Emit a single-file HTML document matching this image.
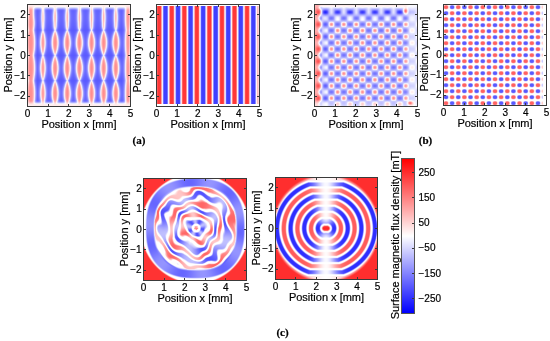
<!DOCTYPE html>
<html><head><meta charset="utf-8"><title>Surface magnetic flux density maps</title><style>
html,body{margin:0;padding:0;background:#fff}
body{position:relative;width:550px;height:341px;overflow:hidden;font-family:"Liberation Sans",Arial,sans-serif;color:#000;-webkit-text-stroke:0.2px #000}
.bx{position:absolute;box-sizing:border-box;border:1px solid #3a3a3a}
canvas{position:absolute;display:block;filter:blur(0.45px)}
.t{position:absolute;white-space:nowrap;line-height:1;transform:translate(-50%,-50%)}
.tk{font-size:10px}
.lb{font-size:11px}
.r{transform:translate(-50%,-50%) rotate(-90deg)}
.tm{position:absolute;background:#3a3a3a}
.cap{position:absolute;font-family:"Liberation Serif","Times New Roman",serif;font-weight:bold;font-size:11px;line-height:1;transform:translate(-50%,-50%)}
</style></head>
<body>
<canvas id="a1" width="102" height="101" style="left:28px;top:5px;width:102px;height:101px;background:linear-gradient(90deg,#f99 0,#f99 5px,transparent 7px),repeating-linear-gradient(90deg,#fbb 0,#fff 1.6px,#8c8cff 4px,#7a7aff 6px,#8c8cff 8px,#fff 10.5px,#fbb 12.15px) 2.8px 0/12.15px 100% #9a9aff"></canvas>
<div class="bx" style="left:27px;top:4px;width:104px;height:103px"></div>
<div class="tm" style="left:47.60px;top:5px;width:1px;height:2px"></div>
<div class="tm" style="left:47.60px;top:104px;width:1px;height:2px"></div>
<div class="tm" style="left:68.20px;top:5px;width:1px;height:2px"></div>
<div class="tm" style="left:68.20px;top:104px;width:1px;height:2px"></div>
<div class="tm" style="left:88.80px;top:5px;width:1px;height:2px"></div>
<div class="tm" style="left:88.80px;top:104px;width:1px;height:2px"></div>
<div class="tm" style="left:109.40px;top:5px;width:1px;height:2px"></div>
<div class="tm" style="left:109.40px;top:104px;width:1px;height:2px"></div>
<div class="tm" style="left:28px;top:14.20px;width:2px;height:1px"></div>
<div class="tm" style="left:128px;top:14.20px;width:2px;height:1px"></div>
<div class="tm" style="left:28px;top:34.60px;width:2px;height:1px"></div>
<div class="tm" style="left:128px;top:34.60px;width:2px;height:1px"></div>
<div class="tm" style="left:28px;top:55.00px;width:2px;height:1px"></div>
<div class="tm" style="left:128px;top:55.00px;width:2px;height:1px"></div>
<div class="tm" style="left:28px;top:75.40px;width:2px;height:1px"></div>
<div class="tm" style="left:128px;top:75.40px;width:2px;height:1px"></div>
<div class="tm" style="left:28px;top:95.80px;width:2px;height:1px"></div>
<div class="tm" style="left:128px;top:95.80px;width:2px;height:1px"></div>
<div class="t tk" style="left:27.50px;top:113.50px;">0</div>
<div class="t tk" style="left:48.10px;top:113.50px;">1</div>
<div class="t tk" style="left:68.70px;top:113.50px;">2</div>
<div class="t tk" style="left:89.30px;top:113.50px;">3</div>
<div class="t tk" style="left:109.90px;top:113.50px;">4</div>
<div class="t tk" style="left:130.50px;top:113.50px;">5</div>
<div class="t tk" style="left:25.70px;top:14.70px;transform:translate(-100%,-50%)">2</div>
<div class="t tk" style="left:25.70px;top:35.10px;transform:translate(-100%,-50%)">1</div>
<div class="t tk" style="left:25.70px;top:55.50px;transform:translate(-100%,-50%)">0</div>
<div class="t tk" style="left:25.70px;top:75.90px;transform:translate(-100%,-50%)">−1</div>
<div class="t tk" style="left:25.70px;top:96.30px;transform:translate(-100%,-50%)">−2</div>
<div class="t lb" style="left:79.00px;top:123.80px;">Position x [mm]</div>
<div class="t lb r" style="left:7.50px;top:54.50px;">Position y [mm]</div>
<canvas id="a2" width="102" height="101" style="left:157px;top:5px;width:102px;height:101px;background:repeating-linear-gradient(90deg,#ff3c3c 0,#ff3c3c 1.6px,#fff 3.1px,#4040ff 4.7px,#4040ff 7.9px,#fff 9.4px,#ff3c3c 11px,#ff3c3c 12.55px) 0.6px 0/12.55px 100%"></canvas>
<div class="bx" style="left:156px;top:4px;width:104px;height:103px"></div>
<div class="tm" style="left:176.60px;top:5px;width:1px;height:2px"></div>
<div class="tm" style="left:176.60px;top:104px;width:1px;height:2px"></div>
<div class="tm" style="left:197.20px;top:5px;width:1px;height:2px"></div>
<div class="tm" style="left:197.20px;top:104px;width:1px;height:2px"></div>
<div class="tm" style="left:217.80px;top:5px;width:1px;height:2px"></div>
<div class="tm" style="left:217.80px;top:104px;width:1px;height:2px"></div>
<div class="tm" style="left:238.40px;top:5px;width:1px;height:2px"></div>
<div class="tm" style="left:238.40px;top:104px;width:1px;height:2px"></div>
<div class="tm" style="left:157px;top:14.20px;width:2px;height:1px"></div>
<div class="tm" style="left:257px;top:14.20px;width:2px;height:1px"></div>
<div class="tm" style="left:157px;top:34.60px;width:2px;height:1px"></div>
<div class="tm" style="left:257px;top:34.60px;width:2px;height:1px"></div>
<div class="tm" style="left:157px;top:55.00px;width:2px;height:1px"></div>
<div class="tm" style="left:257px;top:55.00px;width:2px;height:1px"></div>
<div class="tm" style="left:157px;top:75.40px;width:2px;height:1px"></div>
<div class="tm" style="left:257px;top:75.40px;width:2px;height:1px"></div>
<div class="tm" style="left:157px;top:95.80px;width:2px;height:1px"></div>
<div class="tm" style="left:257px;top:95.80px;width:2px;height:1px"></div>
<div class="t tk" style="left:156.50px;top:113.50px;">0</div>
<div class="t tk" style="left:177.10px;top:113.50px;">1</div>
<div class="t tk" style="left:197.70px;top:113.50px;">2</div>
<div class="t tk" style="left:218.30px;top:113.50px;">3</div>
<div class="t tk" style="left:238.90px;top:113.50px;">4</div>
<div class="t tk" style="left:259.50px;top:113.50px;">5</div>
<div class="t tk" style="left:154.70px;top:14.70px;transform:translate(-100%,-50%)">2</div>
<div class="t tk" style="left:154.70px;top:35.10px;transform:translate(-100%,-50%)">1</div>
<div class="t tk" style="left:154.70px;top:55.50px;transform:translate(-100%,-50%)">0</div>
<div class="t tk" style="left:154.70px;top:75.90px;transform:translate(-100%,-50%)">−1</div>
<div class="t tk" style="left:154.70px;top:96.30px;transform:translate(-100%,-50%)">−2</div>
<div class="t lb" style="left:208.00px;top:123.80px;">Position x [mm]</div>
<div class="t lb r" style="left:136.50px;top:54.50px;">Position y [mm]</div>
<canvas id="b1" width="102" height="101" style="left:315px;top:5px;width:102px;height:101px;background:radial-gradient(circle at 3.1px 3.1px,#f99 1.4px,#fff 2.4px,transparent 3px) 0 0/6.22px 6.15px,#b4b4ff"></canvas>
<div class="bx" style="left:314px;top:4px;width:104px;height:103px"></div>
<div class="tm" style="left:334.60px;top:5px;width:1px;height:2px"></div>
<div class="tm" style="left:334.60px;top:104px;width:1px;height:2px"></div>
<div class="tm" style="left:355.20px;top:5px;width:1px;height:2px"></div>
<div class="tm" style="left:355.20px;top:104px;width:1px;height:2px"></div>
<div class="tm" style="left:375.80px;top:5px;width:1px;height:2px"></div>
<div class="tm" style="left:375.80px;top:104px;width:1px;height:2px"></div>
<div class="tm" style="left:396.40px;top:5px;width:1px;height:2px"></div>
<div class="tm" style="left:396.40px;top:104px;width:1px;height:2px"></div>
<div class="tm" style="left:315px;top:14.20px;width:2px;height:1px"></div>
<div class="tm" style="left:415px;top:14.20px;width:2px;height:1px"></div>
<div class="tm" style="left:315px;top:34.60px;width:2px;height:1px"></div>
<div class="tm" style="left:415px;top:34.60px;width:2px;height:1px"></div>
<div class="tm" style="left:315px;top:55.00px;width:2px;height:1px"></div>
<div class="tm" style="left:415px;top:55.00px;width:2px;height:1px"></div>
<div class="tm" style="left:315px;top:75.40px;width:2px;height:1px"></div>
<div class="tm" style="left:415px;top:75.40px;width:2px;height:1px"></div>
<div class="tm" style="left:315px;top:95.80px;width:2px;height:1px"></div>
<div class="tm" style="left:415px;top:95.80px;width:2px;height:1px"></div>
<div class="t tk" style="left:314.50px;top:113.50px;">0</div>
<div class="t tk" style="left:335.10px;top:113.50px;">1</div>
<div class="t tk" style="left:355.70px;top:113.50px;">2</div>
<div class="t tk" style="left:376.30px;top:113.50px;">3</div>
<div class="t tk" style="left:396.90px;top:113.50px;">4</div>
<div class="t tk" style="left:417.50px;top:113.50px;">5</div>
<div class="t tk" style="left:312.70px;top:14.70px;transform:translate(-100%,-50%)">2</div>
<div class="t tk" style="left:312.70px;top:35.10px;transform:translate(-100%,-50%)">1</div>
<div class="t tk" style="left:312.70px;top:55.50px;transform:translate(-100%,-50%)">0</div>
<div class="t tk" style="left:312.70px;top:75.90px;transform:translate(-100%,-50%)">−1</div>
<div class="t tk" style="left:312.70px;top:96.30px;transform:translate(-100%,-50%)">−2</div>
<div class="t lb" style="left:366.00px;top:123.80px;">Position x [mm]</div>
<div class="t lb r" style="left:294.50px;top:54.50px;">Position y [mm]</div>
<canvas id="b2" width="102" height="100" style="left:444px;top:5px;width:102px;height:100px;background:radial-gradient(circle at 3.07px 3px,#ff6a6a 1.7px,transparent 2.6px) -1.07px -0.8px/12.26px 12px,radial-gradient(circle at 9.2px 9px,#ff6a6a 1.7px,transparent 2.6px) -1.07px -0.8px/12.26px 12px,radial-gradient(circle at 9.2px 3px,#6a6aff 1.7px,transparent 2.6px) -1.07px -0.8px/12.26px 12px,radial-gradient(circle at 3.07px 9px,#6a6aff 1.7px,transparent 2.6px) -1.07px -0.8px/12.26px 12px,#fff"></canvas>
<div class="bx" style="left:443px;top:4px;width:104px;height:102px"></div>
<div class="tm" style="left:463.60px;top:5px;width:1px;height:2px"></div>
<div class="tm" style="left:463.60px;top:103px;width:1px;height:2px"></div>
<div class="tm" style="left:484.20px;top:5px;width:1px;height:2px"></div>
<div class="tm" style="left:484.20px;top:103px;width:1px;height:2px"></div>
<div class="tm" style="left:504.80px;top:5px;width:1px;height:2px"></div>
<div class="tm" style="left:504.80px;top:103px;width:1px;height:2px"></div>
<div class="tm" style="left:525.40px;top:5px;width:1px;height:2px"></div>
<div class="tm" style="left:525.40px;top:103px;width:1px;height:2px"></div>
<div class="tm" style="left:444px;top:14.10px;width:2px;height:1px"></div>
<div class="tm" style="left:544px;top:14.10px;width:2px;height:1px"></div>
<div class="tm" style="left:444px;top:34.30px;width:2px;height:1px"></div>
<div class="tm" style="left:544px;top:34.30px;width:2px;height:1px"></div>
<div class="tm" style="left:444px;top:54.50px;width:2px;height:1px"></div>
<div class="tm" style="left:544px;top:54.50px;width:2px;height:1px"></div>
<div class="tm" style="left:444px;top:74.70px;width:2px;height:1px"></div>
<div class="tm" style="left:544px;top:74.70px;width:2px;height:1px"></div>
<div class="tm" style="left:444px;top:94.90px;width:2px;height:1px"></div>
<div class="tm" style="left:544px;top:94.90px;width:2px;height:1px"></div>
<div class="t tk" style="left:443.50px;top:112.50px;">0</div>
<div class="t tk" style="left:464.10px;top:112.50px;">1</div>
<div class="t tk" style="left:484.70px;top:112.50px;">2</div>
<div class="t tk" style="left:505.30px;top:112.50px;">3</div>
<div class="t tk" style="left:525.90px;top:112.50px;">4</div>
<div class="t tk" style="left:546.50px;top:112.50px;">5</div>
<div class="t tk" style="left:441.70px;top:14.60px;transform:translate(-100%,-50%)">2</div>
<div class="t tk" style="left:441.70px;top:34.80px;transform:translate(-100%,-50%)">1</div>
<div class="t tk" style="left:441.70px;top:55.00px;transform:translate(-100%,-50%)">0</div>
<div class="t tk" style="left:441.70px;top:75.20px;transform:translate(-100%,-50%)">−1</div>
<div class="t tk" style="left:441.70px;top:95.40px;transform:translate(-100%,-50%)">−2</div>
<div class="t lb" style="left:495.00px;top:122.80px;">Position x [mm]</div>
<div class="t lb r" style="left:423.50px;top:54.00px;">Position y [mm]</div>
<canvas id="c1" width="102" height="101" style="left:144px;top:179px;width:102px;height:101px;background:radial-gradient(circle at 53.5px 49.5px,transparent 44px,#7070ff 46px,#7070ff 51px,#fff 53px,#ff4040 56px),repeating-radial-gradient(circle at 53.5px 49.5px,#ff7070 0,#fff 3.3px,#7070ff 6.5px,#fff 9.8px,#ff7070 13.1px)"></canvas>
<div class="bx" style="left:143px;top:178px;width:104px;height:103px"></div>
<div class="tm" style="left:163.60px;top:179px;width:1px;height:2px"></div>
<div class="tm" style="left:163.60px;top:278px;width:1px;height:2px"></div>
<div class="tm" style="left:184.20px;top:179px;width:1px;height:2px"></div>
<div class="tm" style="left:184.20px;top:278px;width:1px;height:2px"></div>
<div class="tm" style="left:204.80px;top:179px;width:1px;height:2px"></div>
<div class="tm" style="left:204.80px;top:278px;width:1px;height:2px"></div>
<div class="tm" style="left:225.40px;top:179px;width:1px;height:2px"></div>
<div class="tm" style="left:225.40px;top:278px;width:1px;height:2px"></div>
<div class="tm" style="left:144px;top:188.20px;width:2px;height:1px"></div>
<div class="tm" style="left:244px;top:188.20px;width:2px;height:1px"></div>
<div class="tm" style="left:144px;top:208.60px;width:2px;height:1px"></div>
<div class="tm" style="left:244px;top:208.60px;width:2px;height:1px"></div>
<div class="tm" style="left:144px;top:229.00px;width:2px;height:1px"></div>
<div class="tm" style="left:244px;top:229.00px;width:2px;height:1px"></div>
<div class="tm" style="left:144px;top:249.40px;width:2px;height:1px"></div>
<div class="tm" style="left:244px;top:249.40px;width:2px;height:1px"></div>
<div class="tm" style="left:144px;top:269.80px;width:2px;height:1px"></div>
<div class="tm" style="left:244px;top:269.80px;width:2px;height:1px"></div>
<div class="t tk" style="left:143.50px;top:287.50px;">0</div>
<div class="t tk" style="left:164.10px;top:287.50px;">1</div>
<div class="t tk" style="left:184.70px;top:287.50px;">2</div>
<div class="t tk" style="left:205.30px;top:287.50px;">3</div>
<div class="t tk" style="left:225.90px;top:287.50px;">4</div>
<div class="t tk" style="left:246.50px;top:287.50px;">5</div>
<div class="t tk" style="left:141.70px;top:188.70px;transform:translate(-100%,-50%)">2</div>
<div class="t tk" style="left:141.70px;top:209.10px;transform:translate(-100%,-50%)">1</div>
<div class="t tk" style="left:141.70px;top:229.50px;transform:translate(-100%,-50%)">0</div>
<div class="t tk" style="left:141.70px;top:249.90px;transform:translate(-100%,-50%)">−1</div>
<div class="t tk" style="left:141.70px;top:270.30px;transform:translate(-100%,-50%)">−2</div>
<div class="t lb" style="left:195.00px;top:297.80px;">Position x [mm]</div>
<div class="t lb r" style="left:123.50px;top:228.50px;">Position y [mm]</div>
<canvas id="c2" width="101" height="101" style="left:276px;top:178px;width:101px;height:101px;background:radial-gradient(ellipse 52px 48px at 50.5px 51px,transparent 92%,#ff3030 100%),linear-gradient(90deg,transparent 40px,#fff 50px,transparent 60px),repeating-radial-gradient(ellipse 13.6px 12.2px at 50.5px 51px,#ff5050 0,#fff 25%,#2020ff 50%,#fff 75%,#ff5050 100%)"></canvas>
<div class="bx" style="left:275px;top:177px;width:103px;height:103px"></div>
<div class="tm" style="left:295.40px;top:178px;width:1px;height:2px"></div>
<div class="tm" style="left:295.40px;top:277px;width:1px;height:2px"></div>
<div class="tm" style="left:315.80px;top:178px;width:1px;height:2px"></div>
<div class="tm" style="left:315.80px;top:277px;width:1px;height:2px"></div>
<div class="tm" style="left:336.20px;top:178px;width:1px;height:2px"></div>
<div class="tm" style="left:336.20px;top:277px;width:1px;height:2px"></div>
<div class="tm" style="left:356.60px;top:178px;width:1px;height:2px"></div>
<div class="tm" style="left:356.60px;top:277px;width:1px;height:2px"></div>
<div class="tm" style="left:276px;top:187.20px;width:2px;height:1px"></div>
<div class="tm" style="left:375px;top:187.20px;width:2px;height:1px"></div>
<div class="tm" style="left:276px;top:207.60px;width:2px;height:1px"></div>
<div class="tm" style="left:375px;top:207.60px;width:2px;height:1px"></div>
<div class="tm" style="left:276px;top:228.00px;width:2px;height:1px"></div>
<div class="tm" style="left:375px;top:228.00px;width:2px;height:1px"></div>
<div class="tm" style="left:276px;top:248.40px;width:2px;height:1px"></div>
<div class="tm" style="left:375px;top:248.40px;width:2px;height:1px"></div>
<div class="tm" style="left:276px;top:268.80px;width:2px;height:1px"></div>
<div class="tm" style="left:375px;top:268.80px;width:2px;height:1px"></div>
<div class="t tk" style="left:275.50px;top:286.50px;">0</div>
<div class="t tk" style="left:295.90px;top:286.50px;">1</div>
<div class="t tk" style="left:316.30px;top:286.50px;">2</div>
<div class="t tk" style="left:336.70px;top:286.50px;">3</div>
<div class="t tk" style="left:357.10px;top:286.50px;">4</div>
<div class="t tk" style="left:377.50px;top:286.50px;">5</div>
<div class="t tk" style="left:273.70px;top:187.70px;transform:translate(-100%,-50%)">2</div>
<div class="t tk" style="left:273.70px;top:208.10px;transform:translate(-100%,-50%)">1</div>
<div class="t tk" style="left:273.70px;top:228.50px;transform:translate(-100%,-50%)">0</div>
<div class="t tk" style="left:273.70px;top:248.90px;transform:translate(-100%,-50%)">−1</div>
<div class="t tk" style="left:273.70px;top:269.30px;transform:translate(-100%,-50%)">−2</div>
<div class="t lb" style="left:326.50px;top:296.80px;">Position x [mm]</div>
<div class="t lb r" style="left:255.50px;top:227.50px;">Position y [mm]</div>
<div class="cap" style="left:139px;top:140px">(a)</div>
<div class="cap" style="left:425.5px;top:140px">(b)</div>
<div class="cap" style="left:282.5px;top:332px">(c)</div>
<div style="position:absolute;left:401px;top:158px;width:14px;height:156px;box-sizing:border-box;border:1px solid #555;background:linear-gradient(to bottom,#f00,#fff 50%,#00f)"></div>
<div class="t tk" style="left:418.5px;top:172.5px;transform:translate(0,-50%)">250</div>
<div class="tm" style="left:412px;top:172.0px;width:2px;height:1px"></div>
<div class="t tk" style="left:418.5px;top:197.8px;transform:translate(0,-50%)">150</div>
<div class="tm" style="left:412px;top:197.3px;width:2px;height:1px"></div>
<div class="t tk" style="left:418.5px;top:223px;transform:translate(0,-50%)">50</div>
<div class="tm" style="left:412px;top:222.5px;width:2px;height:1px"></div>
<div class="t tk" style="left:418.5px;top:248.2px;transform:translate(0,-50%)">−50</div>
<div class="tm" style="left:412px;top:247.7px;width:2px;height:1px"></div>
<div class="t tk" style="left:418.5px;top:273.5px;transform:translate(0,-50%)">−150</div>
<div class="tm" style="left:412px;top:273.0px;width:2px;height:1px"></div>
<div class="t tk" style="left:418.5px;top:298.7px;transform:translate(0,-50%)">−250</div>
<div class="tm" style="left:412px;top:298.2px;width:2px;height:1px"></div>
<div class="t lb r" style="left:394.80px;top:235.30px;">Surface magnetic flux density [mT]</div>
<script>
(function(){
var PI=Math.PI, cos=Math.cos, sin=Math.sin, exp=Math.exp, sqrt=Math.sqrt, abs=Math.abs, tanh=Math.tanh||function(x){var e=exp(2*x);return (e-1)/(e+1);};
function cl(v,a,b){return v<a?a:(v>b?b:v);}
function ss(a,b,x){var t=cl((x-a)/(b-a),0,1);return t*t*(3-2*t);}
function paint(id,f){
  var c=document.getElementById(id); if(!c||!c.getContext) return;
  var ctx=c.getContext('2d'); var w=c.width,h=c.height;
  var x0=parseFloat(c.style.left), y0=parseFloat(c.style.top);
  var im=ctx.createImageData(w,h), d=im.data, S=2;
  for(var j=0;j<h;j++) for(var i=0;i<w;i++){
    var r=0,g=0,b=0;
    for(var sj=0;sj<S;sj++) for(var si=0;si<S;si++){
      var X=x0+i+(si+0.5)/S, Y=y0+j+(sj+0.5)/S;
      var v=cl(f(X,Y),-1,1);
      if(v>=0){r+=1;g+=1-v;b+=1-v;} else {r+=1+v;g+=1+v;b+=1;}
    }
    var k=(j*w+i)*4, n=S*S;
    d[k]=255*r/n; d[k+1]=255*g/n; d[k+2]=255*b/n; d[k+3]=255;
  }
  ctx.putImageData(im,0,0);
}
// (a) left: blue columns with red lenses
paint('a1',function(X,Y){
  var k=Math.round((X-30.8)/12.15); var dxr=abs(X-30.8-12.15*k);
  var sp=abs(sin(PI*(Y-55.45)/25.3));
  var env=0.45+0.55*ss(22,34,Y);
  var w=(k<=0)?(2.7+1.1*sp*ss(12,30,Y)):(k>=8?(1.9+0.6*sp):2.9*Math.pow(sp,0.8)*env*(k==1?0.75:1));
  var s=w-dxr;
  var v=s>0?(k<=0?0.45:0.48)*tanh(s/1.6):-0.6*tanh(-s/1.7)-0.05*(1-sp)*tanh(-s/2.5);
  var ft=ss(5.5,11,Y)*ss(105,100.5,Y);
  v=v*ft+0.08*(1-ft);
  return v;
});
// (a) right: stripes
paint('a2',function(X,Y){
  if(Y<6||Y>104.2) return 0;
  var c=cos(2*PI*(X-159.2)/12.55);
  return c>0?cl(1.2*(c-0.1),0,0.78)*(0.2+0.8*ss(258.5,256.5,X)):-cl(1.25*(-c-0.1),0,0.75);
});
// (b) left
paint('b1',function(X,Y){
  var u=PI*(X-331.4)/6.22, w=PI*(Y-24.4)/6.15;
  var cu=cos(u), cw=cos(w), P=cu*cw;
  var sup=ss(18,23.5,Y)*ss(324,331,X);
  var pp=Math.max(P,0);
  var nb=P<0?Math.pow(abs(cu),0.6)*Math.pow(abs(cw),1.3):0;
  var v=-0.25+0.7*sup*Math.pow(pp,1.0)+0.24*(1-sup)*pp-0.3*nb;
  // top blue band with blobs
  var tb=exp(-Math.pow((Y-12.3)/2.6,2));
  var blob=Math.pow(0.5-0.5*cu,0.5);
  v+=tb*(-0.1-0.14*blob);
  // left blue band
  var lb=exp(-Math.pow((X-325.5)/2.8,2));
  v+=-0.08*lb;
  // top strip pale pink with V dips
  var ft=ss(5.5,8.5+4*(1-blob)*ss(322,326,X),Y);
  v=v*ft+0.08*(1-ft);
  // left edge: pale pink strip + red blobs
  var ky=Math.round((Y-24.4)/12.3), dy=Y-24.4-12.3*ky;
  var rb=exp(-(Math.pow((X-318.3)/3.0,2)+Math.pow(dy/3.4,2)));
  var L=ss(321.5,317,X);
  v=v*(1-L)+0.3*L;
  v=v*(1-rb)+0.68*rb;
  // right edge pale band
  var wr=ss(404,412,X);
  v=v*(1-0.75*wr)-0.04*wr;
  // bottom lighter
  var wb=ss(99,105,Y);
  v=v*(1-0.6*wb);
  // corner red blobs
  v+=0.7*exp(-(Math.pow((X-405.5)/2.2,2)+Math.pow((Y-11)/2.6,2)));
  v+=0.6*exp(-(Math.pow((X-410)/2.5,2)+Math.pow((Y-103)/1.8,2)));
  return v;
});
// (b) right: checkerboard dots
paint('b2',function(X,Y){
  var cu=cos(PI*(X-446)/6.13), cw=cos(PI*(Y-55.2)/6.0);
  var a=Math.pow(abs(cu),0.85)*Math.pow(abs(cw),1.25);
  var m=cl(1.4*(a-0.25),0,0.62);
  m*=ss(543.5,541,X);
  return (cu*cw>0)?m:-m*1.05;
});
// (c) right: concentric rings with white vertical band
paint('c2',function(X,Y){
  var dx=X-326, dy=Y-228.3;
  var qx=abs(dx)/12.8, qy=abs(dy)/12.2;
  var re0=sqrt(qx*qx+qy*qy);
  var qy2=qy*(1+0.45*exp(-Math.pow(re0/0.35,2)));
  var re=sqrt(qx*qx+qy2*qy2);
  var r=Math.max(qy2,0.94*re);
  r=r-0.1*Math.min(1,r/0.4);
  var c=cos(2*PI*r);
  var v=c>0?cl(1.35*(c-0.3),0,0.64):-cl(1.6*(-c-0.28),0,0.82);
  if(r<0.25) v=cl(1.6*c,0,0.85);
  v*=1-0.75*ss(3.72,3.92,r);
  var dd=sqrt(dx*dx+dy*dy);
  var o=ss(50.5,54.5,dd);
  v=v*(1-o)+0.82*o;
  var bw=6.5+0.13*abs(dy);
  var band=exp(-Math.pow(dx/bw,2))*(1-exp(-Math.pow(dy/5.5,2)));
  v*=1-0.97*band;
  return v;
});
// (c) left: distorted rings
paint('c1',function(X,Y){
  var dx=X-196.2, dy=Y-228;
  var qx=dx>0?dx/12.6:-dx/13.1, qy=dy<0?-dy/12.9:dy/13.1;
  var re=sqrt(qx*qx+qy*qy), ro=Math.max(qx,qy,(qx+qy)*0.7);
  var r=0.6*re+0.4*ro;
  var ang=Math.atan2(dy,dx);
  var ph=0.15*sin(0.23*X+0.11*Y+0.5)+0.12*sin(0.19*Y-0.1*X+1.3)+0.09*sin(3*ang+0.7)+0.08*sin(0.37*X-0.29*Y);
  var rr=r+ph*ss(0.3,1.2,r)*(1-0.8*ss(2.9,3.3,r));
  var c=cos(2*PI*rr);
  var brk=0.55+0.45*sin(5*ang+0.9*rr+0.3*sin(0.2*X));
  var v=c>0?cl(1.4*(c-0.4),0,0.6):-cl(1.6*(-c-0.36),0,0.68);
  v*=0.3+0.7*Math.max(brk,0.05);
  // broad outer blue band
  var rs=Math.pow(Math.pow(qx,2.5)+Math.pow(qy,2.5),0.4);
  var ob=ss(3.12,3.32,rs)*(1-ss(3.75,3.9,rs));
  v=v*(1-ss(3.12,3.32,rs))-0.6*ob*(0.85+0.15*sin(7*ang+1));
  var o=ss(4.15,4.3,re);
  v=v*(1-o)+0.8*o;
  return v;
});
})();

</script>
</body></html>
